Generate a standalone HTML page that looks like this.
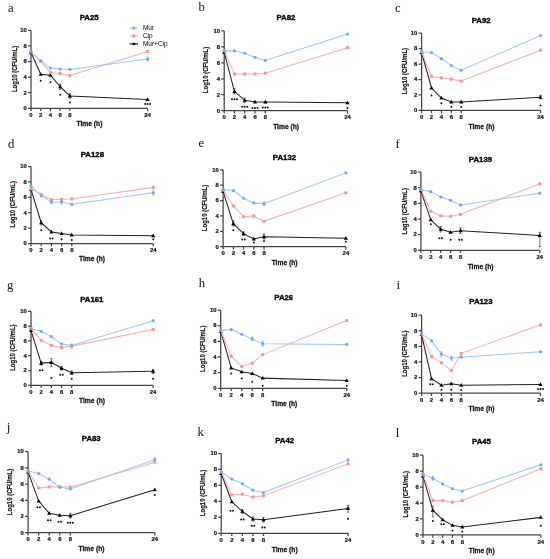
<!DOCTYPE html>
<html><head><meta charset="utf-8"><style>
html,body{margin:0;padding:0;background:#fff;}
svg{display:block;filter:blur(0.2px);}
text{font-family:"Liberation Sans",sans-serif;fill:#111;}
.let{font-family:"Liberation Serif",serif;font-size:12.7px;fill:#111;}
.tit{font-weight:bold;font-size:7.8px;text-anchor:middle;fill:#000;stroke:#000;stroke-width:0.35px;}
.xl{font-weight:bold;font-size:7.3px;text-anchor:middle;fill:#111;stroke:#111;stroke-width:0.25px;}
.yl{font-weight:bold;font-size:7px;text-anchor:middle;fill:#111;stroke:#111;stroke-width:0.2px;}
.yt{font-weight:bold;font-size:5.9px;text-anchor:end;fill:#111;stroke:#111;stroke-width:0.2px;}
.xt{font-weight:bold;font-size:5.9px;text-anchor:middle;fill:#111;stroke:#111;stroke-width:0.2px;}
.ast{font-weight:bold;font-size:6.2px;text-anchor:middle;fill:#111;stroke:#111;stroke-width:0.1px;}
.leg{font-size:6.5px;fill:#000;}
.ax{fill:none;stroke:#444;stroke-width:1.25;}
</style></head>
<body><svg width="550" height="559" viewBox="0 0 550 559">
<g><text x="7.90" y="11.70" class="let">a</text><text x="89.20" y="19.70" class="tit">PA25</text><text transform="translate(89.45,126.00) scale(0.92,1)" class="xl">Time (h)</text><text transform="translate(17.10,68.90) rotate(-90) scale(0.86,1)" class="yl">Log10 (CFU/mL)</text><path d="M31.00,30.40V108.30H147.60" class="ax"/><text x="26.80" y="110.10" class="yt">0</text><text x="26.80" y="94.52" class="yt">2</text><text x="26.80" y="78.94" class="yt">4</text><text x="26.80" y="63.36" class="yt">6</text><text x="26.80" y="47.78" class="yt">8</text><text x="26.80" y="32.20" class="yt">10</text><text x="31.00" y="116.90" class="xt">0</text><text x="40.72" y="116.90" class="xt">2</text><text x="50.43" y="116.90" class="xt">4</text><text x="60.15" y="116.90" class="xt">6</text><text x="69.87" y="116.90" class="xt">8</text><text x="147.60" y="116.90" class="xt">24</text><path d="M28.00,108.30H31.00M28.00,92.72H31.00M28.00,77.14H31.00M28.00,61.56H31.00M28.00,45.98H31.00M28.00,30.40H31.00M31.00,108.30V111.10M40.72,108.30V111.10M50.43,108.30V111.10M60.15,108.30V111.10M69.87,108.30V111.10M147.60,108.30V111.10" class="ax"/><path d="M60.15,89.21V84.15M58.95,89.21H61.35M58.95,84.15H61.35M69.87,98.17V93.50M68.67,98.17H71.07M68.67,93.50H71.07" fill="none" stroke="#555" stroke-width="0.8"/><path d="M147.60,60.78V56.89M146.40,60.78H148.80M146.40,56.89H148.80" fill="none" stroke="#8cbdf6" stroke-width="0.8"/><path d="M31.00,52.52 L40.72,74.26 L50.43,75.27 L60.15,86.72 L69.87,95.99 L147.60,99.50" fill="none" stroke="#222" stroke-width="1.05"/><path d="M31.00,50.32L33.10,54.02L28.90,54.02Z" fill="#000"/><path d="M40.72,72.06L42.82,75.76L38.62,75.76Z" fill="#000"/><path d="M50.43,73.07L52.53,76.77L48.33,76.77Z" fill="#000"/><path d="M60.15,84.52L62.25,88.22L58.05,88.22Z" fill="#000"/><path d="M69.87,93.79L71.97,97.49L67.77,97.49Z" fill="#000"/><path d="M147.60,97.30L149.70,101.00L145.50,101.00Z" fill="#000"/><path d="M31.00,51.82 L40.72,61.09 L50.43,72.47 L60.15,73.63 L69.87,75.58 L147.60,51.51" fill="none" stroke="#f7b0b3" stroke-width="1.05"/><rect x="29.50" y="50.32" width="3" height="3" fill="#f4959a"/><rect x="39.22" y="59.59" width="3" height="3" fill="#f4959a"/><rect x="48.93" y="70.97" width="3" height="3" fill="#f4959a"/><rect x="58.65" y="72.13" width="3" height="3" fill="#f4959a"/><rect x="68.37" y="74.08" width="3" height="3" fill="#f4959a"/><rect x="146.10" y="50.01" width="3" height="3" fill="#f4959a"/><path d="M31.00,51.82 L40.72,61.09 L50.43,68.03 L60.15,69.12 L69.87,69.43 L147.60,59.07" fill="none" stroke="#9dc8f8" stroke-width="1.05"/><circle cx="31.00" cy="51.82" r="1.6" fill="#70a9f2"/><circle cx="40.72" cy="61.09" r="1.6" fill="#70a9f2"/><circle cx="50.43" cy="68.03" r="1.6" fill="#70a9f2"/><circle cx="60.15" cy="69.12" r="1.6" fill="#70a9f2"/><circle cx="69.87" cy="69.43" r="1.6" fill="#70a9f2"/><circle cx="147.60" cy="59.07" r="1.6" fill="#70a9f2"/><circle cx="40.72" cy="80.73" r="1.0" fill="#111"/><circle cx="50.43" cy="82.29" r="1.0" fill="#111"/><circle cx="60.15" cy="94.76" r="1.0" fill="#111"/><circle cx="69.87" cy="102.55" r="1.0" fill="#111"/><circle cx="145.10" cy="104.11" r="1.0" fill="#111"/><circle cx="147.60" cy="104.11" r="1.0" fill="#111"/><circle cx="150.10" cy="104.11" r="1.0" fill="#111"/></g>
<g><text x="198.50" y="11.20" class="let">b</text><text x="285.90" y="19.90" class="tit">PA82</text><text transform="translate(286.10,129.20) scale(0.92,1)" class="xl">Time (h)</text><text transform="translate(208.15,70.00) rotate(-90) scale(0.86,1)" class="yl">Log10 (CFU/mL)</text><path d="M224.20,30.90V110.70H347.50" class="ax"/><text x="220.00" y="112.50" class="yt">0</text><text x="220.00" y="96.54" class="yt">2</text><text x="220.00" y="80.58" class="yt">4</text><text x="220.00" y="64.62" class="yt">6</text><text x="220.00" y="48.66" class="yt">8</text><text x="220.00" y="32.70" class="yt">10</text><text x="224.20" y="119.30" class="xt">0</text><text x="234.47" y="119.30" class="xt">2</text><text x="244.75" y="119.30" class="xt">4</text><text x="255.02" y="119.30" class="xt">6</text><text x="265.30" y="119.30" class="xt">8</text><text x="347.50" y="119.30" class="xt">24</text><path d="M221.20,110.70H224.20M221.20,94.74H224.20M221.20,78.78H224.20M221.20,62.82H224.20M221.20,46.86H224.20M221.20,30.90H224.20M224.20,110.70V113.50M234.47,110.70V113.50M244.75,110.70V113.50M255.02,110.70V113.50M265.30,110.70V113.50M347.50,110.70V113.50" class="ax"/><path d="M234.47,93.94V88.75M233.28,93.94H235.67M233.28,88.75H235.67M244.75,102.32V97.93M243.55,102.32H245.95M243.55,97.93H245.95" fill="none" stroke="#555" stroke-width="0.8"/><path d="M224.20,52.45 L234.47,91.55 L244.75,100.33 L255.02,101.92 L265.30,101.92 L347.50,102.72" fill="none" stroke="#222" stroke-width="1.05"/><path d="M224.20,50.25L226.30,53.95L222.10,53.95Z" fill="#000"/><path d="M234.47,89.35L236.57,93.05L232.38,93.05Z" fill="#000"/><path d="M244.75,98.13L246.85,101.83L242.65,101.83Z" fill="#000"/><path d="M255.02,99.72L257.12,103.42L252.92,103.42Z" fill="#000"/><path d="M265.30,99.72L267.40,103.42L263.20,103.42Z" fill="#000"/><path d="M347.50,100.52L349.60,104.22L345.40,104.22Z" fill="#000"/><path d="M224.20,50.85 L234.47,73.99 L244.75,73.99 L255.02,73.99 L265.30,73.19 L347.50,47.66" fill="none" stroke="#f7b0b3" stroke-width="1.05"/><rect x="222.70" y="49.35" width="3" height="3" fill="#f4959a"/><rect x="232.97" y="72.49" width="3" height="3" fill="#f4959a"/><rect x="243.25" y="72.49" width="3" height="3" fill="#f4959a"/><rect x="253.52" y="72.49" width="3" height="3" fill="#f4959a"/><rect x="263.80" y="71.69" width="3" height="3" fill="#f4959a"/><rect x="346.00" y="46.16" width="3" height="3" fill="#f4959a"/><path d="M224.20,50.85 L234.47,50.85 L244.75,53.24 L255.02,57.23 L265.30,60.43 L347.50,34.09" fill="none" stroke="#9dc8f8" stroke-width="1.05"/><circle cx="224.20" cy="50.85" r="1.6" fill="#70a9f2"/><circle cx="234.47" cy="50.85" r="1.6" fill="#70a9f2"/><circle cx="244.75" cy="53.24" r="1.6" fill="#70a9f2"/><circle cx="255.02" cy="57.23" r="1.6" fill="#70a9f2"/><circle cx="265.30" cy="60.43" r="1.6" fill="#70a9f2"/><circle cx="347.50" cy="34.09" r="1.6" fill="#70a9f2"/><circle cx="231.97" cy="99.23" r="1.0" fill="#111"/><circle cx="234.47" cy="99.23" r="1.0" fill="#111"/><circle cx="236.97" cy="99.23" r="1.0" fill="#111"/><circle cx="242.25" cy="106.81" r="1.0" fill="#111"/><circle cx="244.75" cy="106.81" r="1.0" fill="#111"/><circle cx="247.25" cy="106.81" r="1.0" fill="#111"/><circle cx="252.52" cy="108.01" r="1.0" fill="#111"/><circle cx="255.02" cy="108.01" r="1.0" fill="#111"/><circle cx="257.52" cy="108.01" r="1.0" fill="#111"/><circle cx="262.80" cy="107.61" r="1.0" fill="#111"/><circle cx="265.30" cy="107.61" r="1.0" fill="#111"/><circle cx="267.80" cy="107.61" r="1.0" fill="#111"/><circle cx="347.50" cy="108.01" r="1.0" fill="#111"/></g>
<g><text x="394.90" y="12.00" class="let">c</text><text x="481.10" y="22.90" class="tit">PA92</text><text transform="translate(481.50,128.50) scale(0.92,1)" class="xl">Time (h)</text><text transform="translate(406.75,71.10) rotate(-90) scale(0.86,1)" class="yl">Log10 (CFU/mL)</text><path d="M421.60,33.20V110.40H540.50" class="ax"/><text x="417.40" y="112.20" class="yt">0</text><text x="417.40" y="96.76" class="yt">2</text><text x="417.40" y="81.32" class="yt">4</text><text x="417.40" y="65.88" class="yt">6</text><text x="417.40" y="50.44" class="yt">8</text><text x="417.40" y="35.00" class="yt">10</text><text x="421.60" y="119.00" class="xt">0</text><text x="431.51" y="119.00" class="xt">2</text><text x="441.42" y="119.00" class="xt">4</text><text x="451.33" y="119.00" class="xt">6</text><text x="461.23" y="119.00" class="xt">8</text><text x="540.50" y="119.00" class="xt">24</text><path d="M418.60,110.40H421.60M418.60,94.96H421.60M418.60,79.52H421.60M418.60,64.08H421.60M418.60,48.64H421.60M418.60,33.20H421.60M421.60,110.40V113.20M431.51,110.40V113.20M441.42,110.40V113.20M451.33,110.40V113.20M461.23,110.40V113.20M540.50,110.40V113.20" class="ax"/><path d="M540.50,98.82V95.35M539.30,98.82H541.70M539.30,95.35H541.70" fill="none" stroke="#555" stroke-width="0.8"/><path d="M421.60,52.50 L431.51,88.01 L441.42,98.05 L451.33,101.91 L461.23,101.91 L540.50,97.28" fill="none" stroke="#222" stroke-width="1.05"/><path d="M421.60,50.30L423.70,54.00L419.50,54.00Z" fill="#000"/><path d="M431.51,85.81L433.61,89.51L429.41,89.51Z" fill="#000"/><path d="M441.42,95.85L443.52,99.55L439.32,99.55Z" fill="#000"/><path d="M451.33,99.71L453.43,103.41L449.23,103.41Z" fill="#000"/><path d="M461.23,99.71L463.33,103.41L459.13,103.41Z" fill="#000"/><path d="M540.50,95.08L542.60,98.78L538.40,98.78Z" fill="#000"/><path d="M421.60,51.73 L431.51,76.43 L441.42,77.98 L451.33,79.13 L461.23,81.06 L540.50,50.18" fill="none" stroke="#f7b0b3" stroke-width="1.05"/><rect x="420.10" y="50.23" width="3" height="3" fill="#f4959a"/><rect x="430.01" y="74.93" width="3" height="3" fill="#f4959a"/><rect x="439.92" y="76.48" width="3" height="3" fill="#f4959a"/><rect x="449.83" y="77.63" width="3" height="3" fill="#f4959a"/><rect x="459.73" y="79.56" width="3" height="3" fill="#f4959a"/><rect x="539.00" y="48.68" width="3" height="3" fill="#f4959a"/><path d="M421.60,51.73 L431.51,52.50 L441.42,58.68 L451.33,65.62 L461.23,70.26 L540.50,35.52" fill="none" stroke="#9dc8f8" stroke-width="1.05"/><circle cx="421.60" cy="51.73" r="1.6" fill="#70a9f2"/><circle cx="431.51" cy="52.50" r="1.6" fill="#70a9f2"/><circle cx="441.42" cy="58.68" r="1.6" fill="#70a9f2"/><circle cx="451.33" cy="65.62" r="1.6" fill="#70a9f2"/><circle cx="461.23" cy="70.26" r="1.6" fill="#70a9f2"/><circle cx="540.50" cy="35.52" r="1.6" fill="#70a9f2"/><circle cx="431.51" cy="95.43" r="1.0" fill="#111"/><circle cx="441.42" cy="103.15" r="1.0" fill="#111"/><circle cx="451.33" cy="107.01" r="1.0" fill="#111"/><circle cx="461.23" cy="107.01" r="1.0" fill="#111"/><circle cx="540.50" cy="105.47" r="1.0" fill="#111"/></g>
<g><text x="7.90" y="147.80" class="let">d</text><text x="92.35" y="156.60" class="tit">PA128</text><text transform="translate(92.00,261.20) scale(0.92,1)" class="xl">Time (h)</text><text transform="translate(15.25,204.30) rotate(-90) scale(0.86,1)" class="yl">Log10 (CFU/mL)</text><path d="M31.00,166.60V243.50H153.30" class="ax"/><text x="26.80" y="245.30" class="yt">0</text><text x="26.80" y="229.92" class="yt">2</text><text x="26.80" y="214.54" class="yt">4</text><text x="26.80" y="199.16" class="yt">6</text><text x="26.80" y="183.78" class="yt">8</text><text x="26.80" y="168.40" class="yt">10</text><text x="31.00" y="252.10" class="xt">0</text><text x="41.19" y="252.10" class="xt">2</text><text x="51.38" y="252.10" class="xt">4</text><text x="61.58" y="252.10" class="xt">6</text><text x="71.77" y="252.10" class="xt">8</text><text x="153.30" y="252.10" class="xt">24</text><path d="M28.00,243.50H31.00M28.00,228.12H31.00M28.00,212.74H31.00M28.00,197.36H31.00M28.00,181.98H31.00M28.00,166.60H31.00M31.00,243.50V246.30M41.19,243.50V246.30M51.38,243.50V246.30M61.58,243.50V246.30M71.77,243.50V246.30M153.30,243.50V246.30" class="ax"/><path d="M41.19,225.04V220.81M39.99,225.04H42.39M39.99,220.81H42.39" fill="none" stroke="#555" stroke-width="0.8"/><path d="M51.38,203.90V200.44M50.18,203.90H52.58M50.18,200.44H52.58M61.58,204.28V200.44M60.38,204.28H62.78M60.38,200.44H62.78M153.30,195.44V190.05M152.10,195.44H154.50M152.10,190.05H154.50" fill="none" stroke="#8cbdf6" stroke-width="0.8"/><path d="M31.00,189.29 L41.19,222.74 L51.38,231.97 L61.58,233.50 L71.77,235.04 L153.30,235.81" fill="none" stroke="#222" stroke-width="1.05"/><path d="M31.00,187.09L33.10,190.79L28.90,190.79Z" fill="#000"/><path d="M41.19,220.54L43.29,224.24L39.09,224.24Z" fill="#000"/><path d="M51.38,229.77L53.48,233.47L49.28,233.47Z" fill="#000"/><path d="M61.58,231.30L63.68,235.00L59.48,235.00Z" fill="#000"/><path d="M71.77,232.84L73.87,236.54L69.67,236.54Z" fill="#000"/><path d="M153.30,233.61L155.40,237.31L151.20,237.31Z" fill="#000"/><path d="M31.00,188.90 L41.19,194.28 L51.38,199.67 L61.58,199.28 L71.77,198.90 L153.30,187.36" fill="none" stroke="#f7b0b3" stroke-width="1.05"/><rect x="29.50" y="187.40" width="3" height="3" fill="#f4959a"/><rect x="39.69" y="192.78" width="3" height="3" fill="#f4959a"/><rect x="49.88" y="198.17" width="3" height="3" fill="#f4959a"/><rect x="60.08" y="197.78" width="3" height="3" fill="#f4959a"/><rect x="70.27" y="197.40" width="3" height="3" fill="#f4959a"/><rect x="151.80" y="185.86" width="3" height="3" fill="#f4959a"/><path d="M31.00,185.82 L41.19,195.82 L51.38,201.97 L61.58,201.97 L71.77,204.28 L153.30,192.75" fill="none" stroke="#9dc8f8" stroke-width="1.05"/><circle cx="31.00" cy="185.82" r="1.6" fill="#70a9f2"/><circle cx="41.19" cy="195.82" r="1.6" fill="#70a9f2"/><circle cx="51.38" cy="201.97" r="1.6" fill="#70a9f2"/><circle cx="61.58" cy="201.97" r="1.6" fill="#70a9f2"/><circle cx="71.77" cy="204.28" r="1.6" fill="#70a9f2"/><circle cx="153.30" cy="192.75" r="1.6" fill="#70a9f2"/><circle cx="41.19" cy="230.13" r="1.0" fill="#111"/><circle cx="50.13" cy="238.59" r="1.0" fill="#111"/><circle cx="52.63" cy="238.59" r="1.0" fill="#111"/><circle cx="61.58" cy="239.35" r="1.0" fill="#111"/><circle cx="71.77" cy="240.12" r="1.0" fill="#111"/><circle cx="153.30" cy="239.35" r="1.0" fill="#111"/></g>
<g><text x="198.50" y="147.30" class="let">e</text><text x="284.50" y="160.00" class="tit">PA132</text><text transform="translate(284.60,264.60) scale(0.92,1)" class="xl">Time (h)</text><text transform="translate(207.45,208.00) rotate(-90) scale(0.86,1)" class="yl">Log10 (CFU/mL)</text><path d="M223.10,169.80V246.70H345.90" class="ax"/><text x="218.90" y="248.50" class="yt">0</text><text x="218.90" y="233.12" class="yt">2</text><text x="218.90" y="217.74" class="yt">4</text><text x="218.90" y="202.36" class="yt">6</text><text x="218.90" y="186.98" class="yt">8</text><text x="218.90" y="171.60" class="yt">10</text><text x="223.10" y="255.30" class="xt">0</text><text x="233.33" y="255.30" class="xt">2</text><text x="243.57" y="255.30" class="xt">4</text><text x="253.80" y="255.30" class="xt">6</text><text x="264.03" y="255.30" class="xt">8</text><text x="345.90" y="255.30" class="xt">24</text><path d="M220.10,246.70H223.10M220.10,231.32H223.10M220.10,215.94H223.10M220.10,200.56H223.10M220.10,185.18H223.10M220.10,169.80H223.10M223.10,246.70V249.50M233.33,246.70V249.50M243.57,246.70V249.50M253.80,246.70V249.50M264.03,246.70V249.50M345.90,246.70V249.50" class="ax"/><path d="M233.33,225.94V220.94M232.13,225.94H234.53M232.13,220.94H234.53M243.57,235.55V231.70M242.37,235.55H244.77M242.37,231.70H244.77M264.03,239.01V234.01M262.83,239.01H265.23M262.83,234.01H265.23" fill="none" stroke="#555" stroke-width="0.8"/><path d="M264.03,205.56V201.71M262.83,205.56H265.23M262.83,201.71H265.23" fill="none" stroke="#8cbdf6" stroke-width="0.8"/><path d="M223.10,191.33 L233.33,223.63 L243.57,233.63 L253.80,239.01 L264.03,236.70 L345.90,238.24" fill="none" stroke="#222" stroke-width="1.05"/><path d="M223.10,189.13L225.20,192.83L221.00,192.83Z" fill="#000"/><path d="M233.33,221.43L235.43,225.13L231.23,225.13Z" fill="#000"/><path d="M243.57,231.43L245.67,235.13L241.47,235.13Z" fill="#000"/><path d="M253.80,236.81L255.90,240.51L251.70,240.51Z" fill="#000"/><path d="M264.03,234.50L266.13,238.20L261.93,238.20Z" fill="#000"/><path d="M345.90,236.04L348.00,239.74L343.80,239.74Z" fill="#000"/><path d="M223.10,189.79 L233.33,205.94 L243.57,216.71 L253.80,215.94 L264.03,221.32 L345.90,192.87" fill="none" stroke="#f7b0b3" stroke-width="1.05"/><rect x="221.60" y="188.29" width="3" height="3" fill="#f4959a"/><rect x="231.83" y="204.44" width="3" height="3" fill="#f4959a"/><rect x="242.07" y="215.21" width="3" height="3" fill="#f4959a"/><rect x="252.30" y="214.44" width="3" height="3" fill="#f4959a"/><rect x="262.53" y="219.82" width="3" height="3" fill="#f4959a"/><rect x="344.40" y="191.37" width="3" height="3" fill="#f4959a"/><path d="M223.10,189.79 L233.33,190.56 L243.57,198.25 L253.80,202.87 L264.03,203.64 L345.90,172.88" fill="none" stroke="#9dc8f8" stroke-width="1.05"/><circle cx="223.10" cy="189.79" r="1.6" fill="#70a9f2"/><circle cx="233.33" cy="190.56" r="1.6" fill="#70a9f2"/><circle cx="243.57" cy="198.25" r="1.6" fill="#70a9f2"/><circle cx="253.80" cy="202.87" r="1.6" fill="#70a9f2"/><circle cx="264.03" cy="203.64" r="1.6" fill="#70a9f2"/><circle cx="345.90" cy="172.88" r="1.6" fill="#70a9f2"/><circle cx="233.33" cy="230.25" r="1.0" fill="#111"/><circle cx="242.32" cy="239.48" r="1.0" fill="#111"/><circle cx="244.82" cy="239.48" r="1.0" fill="#111"/><circle cx="253.80" cy="242.55" r="1.0" fill="#111"/><circle cx="264.03" cy="241.02" r="1.0" fill="#111"/><circle cx="345.90" cy="241.79" r="1.0" fill="#111"/></g>
<g><text x="395.50" y="147.80" class="let">f</text><text x="480.50" y="161.80" class="tit">PA139</text><text transform="translate(480.60,268.80) scale(0.92,1)" class="xl">Time (h)</text><text transform="translate(406.75,211.30) rotate(-90) scale(0.86,1)" class="yl">Log10 (CFU/mL)</text><path d="M420.90,172.10V250.30H539.80" class="ax"/><text x="416.70" y="252.10" class="yt">0</text><text x="416.70" y="236.46" class="yt">2</text><text x="416.70" y="220.82" class="yt">4</text><text x="416.70" y="205.18" class="yt">6</text><text x="416.70" y="189.54" class="yt">8</text><text x="416.70" y="173.90" class="yt">10</text><text x="420.90" y="258.90" class="xt">0</text><text x="430.81" y="258.90" class="xt">2</text><text x="440.72" y="258.90" class="xt">4</text><text x="450.62" y="258.90" class="xt">6</text><text x="460.53" y="258.90" class="xt">8</text><text x="539.80" y="258.90" class="xt">24</text><path d="M417.90,250.30H420.90M417.90,234.66H420.90M417.90,219.02H420.90M417.90,203.38H420.90M417.90,187.74H420.90M417.90,172.10H420.90M420.90,250.30V253.10M430.81,250.30V253.10M440.72,250.30V253.10M450.62,250.30V253.10M460.53,250.30V253.10M539.80,250.30V253.10" class="ax"/><path d="M440.72,231.92V226.45M439.52,231.92H441.92M439.52,226.45H441.92M460.53,233.49V228.01M459.33,233.49H461.73M459.33,228.01H461.73M539.80,246.39V232.31M538.60,246.39H541.00M538.60,232.31H541.00" fill="none" stroke="#555" stroke-width="0.8"/><path d="M420.90,190.87 L430.81,219.80 L440.72,229.19 L450.62,232.31 L460.53,230.75 L539.80,235.44" fill="none" stroke="#222" stroke-width="1.05"/><path d="M420.90,188.67L423.00,192.37L418.80,192.37Z" fill="#000"/><path d="M430.81,217.60L432.91,221.30L428.71,221.30Z" fill="#000"/><path d="M440.72,226.99L442.82,230.69L438.62,230.69Z" fill="#000"/><path d="M450.62,230.11L452.73,233.81L448.52,233.81Z" fill="#000"/><path d="M460.53,228.55L462.63,232.25L458.43,232.25Z" fill="#000"/><path d="M539.80,233.24L541.90,236.94L537.70,236.94Z" fill="#000"/><path d="M420.90,189.30 L430.81,211.20 L440.72,215.89 L450.62,216.28 L460.53,214.33 L539.80,183.83" fill="none" stroke="#f7b0b3" stroke-width="1.05"/><rect x="419.40" y="187.80" width="3" height="3" fill="#f4959a"/><rect x="429.31" y="209.70" width="3" height="3" fill="#f4959a"/><rect x="439.22" y="214.39" width="3" height="3" fill="#f4959a"/><rect x="449.12" y="214.78" width="3" height="3" fill="#f4959a"/><rect x="459.03" y="212.83" width="3" height="3" fill="#f4959a"/><rect x="538.30" y="182.33" width="3" height="3" fill="#f4959a"/><path d="M420.90,189.30 L430.81,191.65 L440.72,197.12 L450.62,200.25 L460.53,204.94 L539.80,193.21" fill="none" stroke="#9dc8f8" stroke-width="1.05"/><circle cx="420.90" cy="189.30" r="1.6" fill="#70a9f2"/><circle cx="430.81" cy="191.65" r="1.6" fill="#70a9f2"/><circle cx="440.72" cy="197.12" r="1.6" fill="#70a9f2"/><circle cx="450.62" cy="200.25" r="1.6" fill="#70a9f2"/><circle cx="460.53" cy="204.94" r="1.6" fill="#70a9f2"/><circle cx="539.80" cy="193.21" r="1.6" fill="#70a9f2"/><circle cx="430.81" cy="224.19" r="1.0" fill="#111"/><circle cx="439.47" cy="238.27" r="1.0" fill="#111"/><circle cx="441.97" cy="238.27" r="1.0" fill="#111"/><circle cx="450.62" cy="239.83" r="1.0" fill="#111"/><circle cx="459.28" cy="239.83" r="1.0" fill="#111"/><circle cx="461.78" cy="239.83" r="1.0" fill="#111"/></g>
<g><text x="7.10" y="289.00" class="let">g</text><text x="91.80" y="301.60" class="tit">PA161</text><text transform="translate(92.00,402.50) scale(0.92,1)" class="xl">Time (h)</text><text transform="translate(15.25,347.60) rotate(-90) scale(0.86,1)" class="yl">Log10 (CFU/mL)</text><path d="M31.00,311.40V385.30H153.10" class="ax"/><text x="26.80" y="387.10" class="yt">0</text><text x="26.80" y="372.32" class="yt">2</text><text x="26.80" y="357.54" class="yt">4</text><text x="26.80" y="342.76" class="yt">6</text><text x="26.80" y="327.98" class="yt">8</text><text x="26.80" y="313.20" class="yt">10</text><text x="31.00" y="393.90" class="xt">0</text><text x="41.17" y="393.90" class="xt">2</text><text x="51.35" y="393.90" class="xt">4</text><text x="61.52" y="393.90" class="xt">6</text><text x="71.70" y="393.90" class="xt">8</text><text x="153.10" y="393.90" class="xt">24</text><path d="M28.00,385.30H31.00M28.00,370.52H31.00M28.00,355.74H31.00M28.00,340.96H31.00M28.00,326.18H31.00M28.00,311.40H31.00M31.00,385.30V388.10M41.17,385.30V388.10M51.35,385.30V388.10M61.52,385.30V388.10M71.70,385.30V388.10M153.10,385.30V388.10" class="ax"/><path d="M41.17,364.98V361.28M39.97,364.98H42.38M39.97,361.28H42.38M51.35,366.82V358.70M50.15,366.82H52.55M50.15,358.70H52.55M61.52,370.15V366.46M60.32,370.15H62.73M60.32,366.46H62.73M71.70,374.58V370.89M70.50,374.58H72.90M70.50,370.89H72.90M153.10,373.48V369.41M151.90,373.48H154.30M151.90,369.41H154.30" fill="none" stroke="#555" stroke-width="0.8"/><path d="M71.70,348.72V343.92M70.50,348.72H72.90M70.50,343.92H72.90" fill="none" stroke="#f5a3a3" stroke-width="0.8"/><path d="M31.00,330.61 L41.17,363.13 L51.35,362.39 L61.52,368.30 L71.70,372.74 L153.10,371.26" fill="none" stroke="#222" stroke-width="1.05"/><path d="M31.00,328.41L33.10,332.11L28.90,332.11Z" fill="#000"/><path d="M41.17,360.93L43.27,364.63L39.07,364.63Z" fill="#000"/><path d="M51.35,360.19L53.45,363.89L49.25,363.89Z" fill="#000"/><path d="M61.52,366.10L63.62,369.80L59.42,369.80Z" fill="#000"/><path d="M71.70,370.54L73.80,374.24L69.60,374.24Z" fill="#000"/><path d="M153.10,369.06L155.20,372.76L151.00,372.76Z" fill="#000"/><path d="M31.00,328.40 L41.17,340.22 L51.35,345.39 L61.52,347.61 L71.70,346.13 L153.10,329.51" fill="none" stroke="#f7b0b3" stroke-width="1.05"/><rect x="29.50" y="326.90" width="3" height="3" fill="#f4959a"/><rect x="39.67" y="338.72" width="3" height="3" fill="#f4959a"/><rect x="49.85" y="343.89" width="3" height="3" fill="#f4959a"/><rect x="60.02" y="346.11" width="3" height="3" fill="#f4959a"/><rect x="70.20" y="344.63" width="3" height="3" fill="#f4959a"/><rect x="151.60" y="328.01" width="3" height="3" fill="#f4959a"/><path d="M31.00,328.77 L41.17,331.35 L51.35,336.53 L61.52,343.92 L71.70,345.39 L153.10,320.64" fill="none" stroke="#9dc8f8" stroke-width="1.05"/><circle cx="31.00" cy="328.77" r="1.6" fill="#70a9f2"/><circle cx="41.17" cy="331.35" r="1.6" fill="#70a9f2"/><circle cx="51.35" cy="336.53" r="1.6" fill="#70a9f2"/><circle cx="61.52" cy="343.92" r="1.6" fill="#70a9f2"/><circle cx="71.70" cy="345.39" r="1.6" fill="#70a9f2"/><circle cx="153.10" cy="320.64" r="1.6" fill="#70a9f2"/><circle cx="39.92" cy="370.22" r="1.0" fill="#111"/><circle cx="42.42" cy="370.22" r="1.0" fill="#111"/><circle cx="51.35" cy="377.98" r="1.0" fill="#111"/><circle cx="60.27" cy="374.65" r="1.0" fill="#111"/><circle cx="62.77" cy="374.65" r="1.0" fill="#111"/><circle cx="71.70" cy="378.72" r="1.0" fill="#111"/><circle cx="153.10" cy="378.72" r="1.0" fill="#111"/></g>
<g><text x="198.70" y="286.70" class="let">h</text><text x="283.75" y="299.50" class="tit">PA26</text><text transform="translate(284.30,406.40) scale(0.92,1)" class="xl">Time (h)</text><text transform="translate(205.25,348.70) rotate(-90) scale(0.86,1)" class="yl">Log10 (CFU/mL)</text><path d="M220.70,310.00V388.30H346.80" class="ax"/><text x="216.50" y="390.10" class="yt">0</text><text x="216.50" y="374.44" class="yt">2</text><text x="216.50" y="358.78" class="yt">4</text><text x="216.50" y="343.12" class="yt">6</text><text x="216.50" y="327.46" class="yt">8</text><text x="216.50" y="311.80" class="yt">10</text><text x="220.70" y="396.90" class="xt">0</text><text x="231.21" y="396.90" class="xt">2</text><text x="241.72" y="396.90" class="xt">4</text><text x="252.22" y="396.90" class="xt">6</text><text x="262.73" y="396.90" class="xt">8</text><text x="346.80" y="396.90" class="xt">24</text><path d="M217.70,388.30H220.70M217.70,372.64H220.70M217.70,356.98H220.70M217.70,341.32H220.70M217.70,325.66H220.70M217.70,310.00H220.70M220.70,388.30V391.10M231.21,388.30V391.10M241.72,388.30V391.10M252.22,388.30V391.10M262.73,388.30V391.10M346.80,388.30V391.10" class="ax"/><path d="M252.22,340.93V337.01M251.03,340.93H253.42M251.03,337.01H253.42M262.73,346.41V340.93M261.53,346.41H263.93M261.53,340.93H263.93" fill="none" stroke="#8cbdf6" stroke-width="0.8"/><path d="M220.70,331.14 L231.21,367.94 L241.72,371.86 L252.22,373.42 L262.73,378.12 L346.80,380.47" fill="none" stroke="#222" stroke-width="1.05"/><path d="M220.70,328.94L222.80,332.64L218.60,332.64Z" fill="#000"/><path d="M231.21,365.74L233.31,369.44L229.11,369.44Z" fill="#000"/><path d="M241.72,369.66L243.82,373.36L239.62,373.36Z" fill="#000"/><path d="M252.22,371.22L254.32,374.92L250.12,374.92Z" fill="#000"/><path d="M262.73,375.92L264.83,379.62L260.63,379.62Z" fill="#000"/><path d="M346.80,378.27L348.90,381.97L344.70,381.97Z" fill="#000"/><path d="M220.70,330.36 L231.21,356.20 L241.72,366.38 L252.22,363.24 L262.73,354.63 L346.80,320.57" fill="none" stroke="#f7b0b3" stroke-width="1.05"/><rect x="219.20" y="328.86" width="3" height="3" fill="#f4959a"/><rect x="229.71" y="354.70" width="3" height="3" fill="#f4959a"/><rect x="240.22" y="364.88" width="3" height="3" fill="#f4959a"/><rect x="250.72" y="361.74" width="3" height="3" fill="#f4959a"/><rect x="261.23" y="353.13" width="3" height="3" fill="#f4959a"/><rect x="345.30" y="319.07" width="3" height="3" fill="#f4959a"/><path d="M220.70,330.36 L231.21,329.57 L241.72,334.27 L252.22,338.97 L262.73,343.67 L346.80,344.45" fill="none" stroke="#9dc8f8" stroke-width="1.05"/><circle cx="220.70" cy="330.36" r="1.6" fill="#70a9f2"/><circle cx="231.21" cy="329.57" r="1.6" fill="#70a9f2"/><circle cx="241.72" cy="334.27" r="1.6" fill="#70a9f2"/><circle cx="252.22" cy="338.97" r="1.6" fill="#70a9f2"/><circle cx="262.73" cy="343.67" r="1.6" fill="#70a9f2"/><circle cx="346.80" cy="344.45" r="1.6" fill="#70a9f2"/><circle cx="231.21" cy="373.51" r="1.0" fill="#111"/><circle cx="241.72" cy="378.60" r="1.0" fill="#111"/><circle cx="252.22" cy="381.74" r="1.0" fill="#111"/><circle cx="262.73" cy="385.65" r="1.0" fill="#111"/><circle cx="346.80" cy="385.65" r="1.0" fill="#111"/></g>
<g><text x="396.50" y="288.60" class="let">i</text><text x="480.90" y="304.40" class="tit">PA123</text><text transform="translate(481.50,411.00) scale(0.92,1)" class="xl">Time (h)</text><text transform="translate(406.75,353.60) rotate(-90) scale(0.86,1)" class="yl">Log10 (CFU/mL)</text><path d="M421.60,315.10V393.10H540.50" class="ax"/><text x="417.40" y="394.90" class="yt">0</text><text x="417.40" y="379.30" class="yt">2</text><text x="417.40" y="363.70" class="yt">4</text><text x="417.40" y="348.10" class="yt">6</text><text x="417.40" y="332.50" class="yt">8</text><text x="417.40" y="316.90" class="yt">10</text><text x="421.60" y="401.70" class="xt">0</text><text x="431.51" y="401.70" class="xt">2</text><text x="441.42" y="401.70" class="xt">4</text><text x="451.33" y="401.70" class="xt">6</text><text x="461.23" y="401.70" class="xt">8</text><text x="540.50" y="401.70" class="xt">24</text><path d="M418.60,393.10H421.60M418.60,377.50H421.60M418.60,361.90H421.60M418.60,346.30H421.60M418.60,330.70H421.60M418.60,315.10H421.60M421.60,393.10V395.90M431.51,393.10V395.90M441.42,393.10V395.90M451.33,393.10V395.90M461.23,393.10V395.90M540.50,393.10V395.90" class="ax"/><path d="M441.42,356.83V351.76M440.22,356.83H442.62M440.22,351.76H442.62M451.33,360.73V356.05M450.13,360.73H452.53M450.13,356.05H452.53" fill="none" stroke="#8cbdf6" stroke-width="0.8"/><path d="M421.60,334.60 L431.51,378.67 L441.42,385.30 L451.33,383.74 L461.23,385.30 L540.50,384.52" fill="none" stroke="#222" stroke-width="1.05"/><path d="M421.60,332.40L423.70,336.10L419.50,336.10Z" fill="#000"/><path d="M431.51,376.47L433.61,380.17L429.41,380.17Z" fill="#000"/><path d="M441.42,383.10L443.52,386.80L439.32,386.80Z" fill="#000"/><path d="M451.33,381.54L453.43,385.24L449.23,385.24Z" fill="#000"/><path d="M461.23,383.10L463.33,386.80L459.13,386.80Z" fill="#000"/><path d="M540.50,382.32L542.60,386.02L538.40,386.02Z" fill="#000"/><path d="M421.60,333.82 L431.51,356.44 L441.42,362.68 L451.33,370.48 L461.23,353.32 L540.50,324.85" fill="none" stroke="#f7b0b3" stroke-width="1.05"/><rect x="420.10" y="332.32" width="3" height="3" fill="#f4959a"/><rect x="430.01" y="354.94" width="3" height="3" fill="#f4959a"/><rect x="439.92" y="361.18" width="3" height="3" fill="#f4959a"/><rect x="449.83" y="368.98" width="3" height="3" fill="#f4959a"/><rect x="459.73" y="351.82" width="3" height="3" fill="#f4959a"/><rect x="539.00" y="323.35" width="3" height="3" fill="#f4959a"/><path d="M421.60,333.82 L431.51,340.84 L441.42,354.10 L451.33,358.00 L461.23,357.22 L540.50,351.76" fill="none" stroke="#9dc8f8" stroke-width="1.05"/><circle cx="421.60" cy="333.82" r="1.6" fill="#70a9f2"/><circle cx="431.51" cy="340.84" r="1.6" fill="#70a9f2"/><circle cx="441.42" cy="354.10" r="1.6" fill="#70a9f2"/><circle cx="451.33" cy="358.00" r="1.6" fill="#70a9f2"/><circle cx="461.23" cy="357.22" r="1.6" fill="#70a9f2"/><circle cx="540.50" cy="351.76" r="1.6" fill="#70a9f2"/><circle cx="430.26" cy="384.22" r="1.0" fill="#111"/><circle cx="432.76" cy="384.22" r="1.0" fill="#111"/><circle cx="441.42" cy="389.68" r="1.0" fill="#111"/><circle cx="451.33" cy="389.68" r="1.0" fill="#111"/><circle cx="461.23" cy="390.07" r="1.0" fill="#111"/><circle cx="538.00" cy="388.90" r="1.0" fill="#111"/><circle cx="540.50" cy="388.90" r="1.0" fill="#111"/><circle cx="543.00" cy="388.90" r="1.0" fill="#111"/></g>
<g><text x="6.80" y="430.90" class="let">j</text><text x="91.25" y="440.50" class="tit">PA83</text><text transform="translate(91.50,551.30) scale(0.92,1)" class="xl">Time (h)</text><text transform="translate(11.70,492.00) rotate(-90) scale(0.86,1)" class="yl">Log10 (CFU/mL)</text><path d="M28.10,451.60V532.70H154.80" class="ax"/><text x="23.90" y="534.50" class="yt">0</text><text x="23.90" y="518.28" class="yt">2</text><text x="23.90" y="502.06" class="yt">4</text><text x="23.90" y="485.84" class="yt">6</text><text x="23.90" y="469.62" class="yt">8</text><text x="23.90" y="453.40" class="yt">10</text><text x="28.10" y="541.30" class="xt">0</text><text x="38.66" y="541.30" class="xt">2</text><text x="49.22" y="541.30" class="xt">4</text><text x="59.78" y="541.30" class="xt">6</text><text x="70.33" y="541.30" class="xt">8</text><text x="154.80" y="541.30" class="xt">24</text><path d="M25.10,532.70H28.10M25.10,516.48H28.10M25.10,500.26H28.10M25.10,484.04H28.10M25.10,467.82H28.10M25.10,451.60H28.10M28.10,532.70V535.50M38.66,532.70V535.50M49.22,532.70V535.50M59.78,532.70V535.50M70.33,532.70V535.50M154.80,532.70V535.50" class="ax"/><path d="M70.33,518.10V513.64M69.13,518.10H71.53M69.13,513.64H71.53" fill="none" stroke="#555" stroke-width="0.8"/><path d="M154.80,461.74V457.68M153.60,461.74H156.00M153.60,457.68H156.00" fill="none" stroke="#8cbdf6" stroke-width="0.8"/><path d="M28.10,471.88 L38.66,501.07 L49.22,513.24 L59.78,515.26 L70.33,515.67 L154.80,489.72" fill="none" stroke="#222" stroke-width="1.05"/><path d="M28.10,469.68L30.20,473.38L26.00,473.38Z" fill="#000"/><path d="M38.66,498.87L40.76,502.57L36.56,502.57Z" fill="#000"/><path d="M49.22,511.04L51.32,514.74L47.12,514.74Z" fill="#000"/><path d="M59.78,513.06L61.88,516.76L57.68,516.76Z" fill="#000"/><path d="M70.33,513.47L72.43,517.17L68.23,517.17Z" fill="#000"/><path d="M154.80,487.52L156.90,491.22L152.70,491.22Z" fill="#000"/><path d="M28.10,471.06 L38.66,488.10 L49.22,486.88 L59.78,486.88 L70.33,487.28 L154.80,462.14" fill="none" stroke="#f7b0b3" stroke-width="1.05"/><rect x="26.60" y="469.56" width="3" height="3" fill="#f4959a"/><rect x="37.16" y="486.60" width="3" height="3" fill="#f4959a"/><rect x="47.72" y="485.38" width="3" height="3" fill="#f4959a"/><rect x="58.28" y="485.38" width="3" height="3" fill="#f4959a"/><rect x="68.83" y="485.78" width="3" height="3" fill="#f4959a"/><rect x="153.30" y="460.64" width="3" height="3" fill="#f4959a"/><path d="M28.10,471.06 L38.66,473.50 L49.22,479.17 L59.78,487.28 L70.33,488.91 L154.80,459.71" fill="none" stroke="#9dc8f8" stroke-width="1.05"/><circle cx="28.10" cy="471.06" r="1.6" fill="#70a9f2"/><circle cx="38.66" cy="473.50" r="1.6" fill="#70a9f2"/><circle cx="49.22" cy="479.17" r="1.6" fill="#70a9f2"/><circle cx="59.78" cy="487.28" r="1.6" fill="#70a9f2"/><circle cx="70.33" cy="488.91" r="1.6" fill="#70a9f2"/><circle cx="154.80" cy="459.71" r="1.6" fill="#70a9f2"/><circle cx="37.41" cy="507.26" r="1.0" fill="#111"/><circle cx="39.91" cy="507.26" r="1.0" fill="#111"/><circle cx="47.97" cy="520.24" r="1.0" fill="#111"/><circle cx="50.47" cy="520.24" r="1.0" fill="#111"/><circle cx="58.53" cy="521.86" r="1.0" fill="#111"/><circle cx="61.03" cy="521.86" r="1.0" fill="#111"/><circle cx="67.83" cy="522.67" r="1.0" fill="#111"/><circle cx="70.33" cy="522.67" r="1.0" fill="#111"/><circle cx="72.83" cy="522.67" r="1.0" fill="#111"/><circle cx="154.80" cy="495.09" r="1.0" fill="#111"/></g>
<g><text x="197.50" y="435.80" class="let">k</text><text x="284.60" y="442.90" class="tit">PA42</text><text transform="translate(284.70,551.50) scale(0.92,1)" class="xl">Time (h)</text><text transform="translate(205.25,493.00) rotate(-90) scale(0.86,1)" class="yl">Log10 (CFU/mL)</text><path d="M221.20,453.50V533.30H348.10" class="ax"/><text x="217.00" y="535.10" class="yt">0</text><text x="217.00" y="519.14" class="yt">2</text><text x="217.00" y="503.18" class="yt">4</text><text x="217.00" y="487.22" class="yt">6</text><text x="217.00" y="471.26" class="yt">8</text><text x="217.00" y="455.30" class="yt">10</text><text x="221.20" y="541.90" class="xt">0</text><text x="231.77" y="541.90" class="xt">2</text><text x="242.35" y="541.90" class="xt">4</text><text x="252.93" y="541.90" class="xt">6</text><text x="263.50" y="541.90" class="xt">8</text><text x="348.10" y="541.90" class="xt">24</text><path d="M218.20,533.30H221.20M218.20,517.34H221.20M218.20,501.38H221.20M218.20,485.42H221.20M218.20,469.46H221.20M218.20,453.50H221.20M221.20,533.30V536.10M231.77,533.30V536.10M242.35,533.30V536.10M252.93,533.30V536.10M263.50,533.30V536.10M348.10,533.30V536.10" class="ax"/><path d="M242.35,513.35V509.76M241.15,513.35H243.55M241.15,509.76H243.55M252.93,520.93V516.94M251.73,520.93H254.12M251.73,516.94H254.12M263.50,522.13V517.34M262.30,522.13H264.70M262.30,517.34H264.70M348.10,512.15V505.37M346.90,512.15H349.30M346.90,505.37H349.30" fill="none" stroke="#555" stroke-width="0.8"/><path d="M221.20,473.45 L231.77,501.78 L242.35,511.35 L252.93,518.94 L263.50,519.73 L348.10,508.56" fill="none" stroke="#222" stroke-width="1.05"/><path d="M221.20,471.25L223.30,474.95L219.10,474.95Z" fill="#000"/><path d="M231.77,499.58L233.87,503.28L229.67,503.28Z" fill="#000"/><path d="M242.35,509.15L244.45,512.86L240.25,512.86Z" fill="#000"/><path d="M252.93,516.74L255.03,520.44L250.83,520.44Z" fill="#000"/><path d="M263.50,517.53L265.60,521.23L261.40,521.23Z" fill="#000"/><path d="M348.10,506.36L350.20,510.06L346.00,510.06Z" fill="#000"/><path d="M221.20,471.85 L231.77,495.00 L242.35,494.20 L252.93,496.99 L263.50,495.79 L348.10,463.87" fill="none" stroke="#f7b0b3" stroke-width="1.05"/><rect x="219.70" y="470.35" width="3" height="3" fill="#f4959a"/><rect x="230.27" y="493.50" width="3" height="3" fill="#f4959a"/><rect x="240.85" y="492.70" width="3" height="3" fill="#f4959a"/><rect x="251.43" y="495.49" width="3" height="3" fill="#f4959a"/><rect x="262.00" y="494.29" width="3" height="3" fill="#f4959a"/><rect x="346.60" y="462.37" width="3" height="3" fill="#f4959a"/><path d="M221.20,471.85 L231.77,479.04 L242.35,483.82 L252.93,490.21 L263.50,492.60 L348.10,459.88" fill="none" stroke="#9dc8f8" stroke-width="1.05"/><circle cx="221.20" cy="471.85" r="1.6" fill="#70a9f2"/><circle cx="231.77" cy="479.04" r="1.6" fill="#70a9f2"/><circle cx="242.35" cy="483.82" r="1.6" fill="#70a9f2"/><circle cx="252.93" cy="490.21" r="1.6" fill="#70a9f2"/><circle cx="263.50" cy="492.60" r="1.6" fill="#70a9f2"/><circle cx="348.10" cy="459.88" r="1.6" fill="#70a9f2"/><circle cx="230.52" cy="510.66" r="1.0" fill="#111"/><circle cx="233.02" cy="510.66" r="1.0" fill="#111"/><circle cx="241.10" cy="519.43" r="1.0" fill="#111"/><circle cx="243.60" cy="519.43" r="1.0" fill="#111"/><circle cx="251.68" cy="525.82" r="1.0" fill="#111"/><circle cx="254.18" cy="525.82" r="1.0" fill="#111"/><circle cx="262.25" cy="527.41" r="1.0" fill="#111"/><circle cx="264.75" cy="527.41" r="1.0" fill="#111"/><circle cx="348.10" cy="518.64" r="1.0" fill="#111"/></g>
<g><text x="395.70" y="436.60" class="let">l</text><text x="481.50" y="444.00" class="tit">PA45</text><text transform="translate(481.70,553.10) scale(0.92,1)" class="xl">Time (h)</text><text transform="translate(407.75,494.30) rotate(-90) scale(0.86,1)" class="yl">Log10 (CFU/mL)</text><path d="M423.00,455.20V534.90H540.80" class="ax"/><text x="418.80" y="536.70" class="yt">0</text><text x="418.80" y="520.76" class="yt">2</text><text x="418.80" y="504.82" class="yt">4</text><text x="418.80" y="488.88" class="yt">6</text><text x="418.80" y="472.94" class="yt">8</text><text x="418.80" y="457.00" class="yt">10</text><text x="423.00" y="543.50" class="xt">0</text><text x="432.82" y="543.50" class="xt">2</text><text x="442.63" y="543.50" class="xt">4</text><text x="452.45" y="543.50" class="xt">6</text><text x="462.27" y="543.50" class="xt">8</text><text x="540.80" y="543.50" class="xt">24</text><path d="M420.00,534.90H423.00M420.00,518.96H423.00M420.00,503.02H423.00M420.00,487.08H423.00M420.00,471.14H423.00M420.00,455.20H423.00M423.00,534.90V537.70M432.82,534.90V537.70M442.63,534.90V537.70M452.45,534.90V537.70M462.27,534.90V537.70M540.80,534.90V537.70" class="ax"/><path d="M432.82,516.97V506.21M431.62,516.97H434.02M431.62,506.21H434.02" fill="none" stroke="#555" stroke-width="0.8"/><path d="M432.82,480.31V476.32M431.62,480.31H434.02M431.62,476.32H434.02" fill="none" stroke="#8cbdf6" stroke-width="0.8"/><path d="M423.00,475.92 L432.82,510.19 L442.63,519.76 L452.45,525.34 L462.27,526.93 L540.80,517.37" fill="none" stroke="#222" stroke-width="1.05"/><path d="M423.00,473.72L425.10,477.42L420.90,477.42Z" fill="#000"/><path d="M432.82,507.99L434.92,511.69L430.72,511.69Z" fill="#000"/><path d="M442.63,517.56L444.73,521.26L440.53,521.26Z" fill="#000"/><path d="M452.45,523.14L454.55,526.84L450.35,526.84Z" fill="#000"/><path d="M462.27,524.73L464.37,528.43L460.17,528.43Z" fill="#000"/><path d="M540.80,515.17L542.90,518.87L538.70,518.87Z" fill="#000"/><path d="M423.00,474.33 L432.82,500.63 L442.63,500.63 L452.45,502.22 L462.27,500.63 L540.80,468.75" fill="none" stroke="#f7b0b3" stroke-width="1.05"/><rect x="421.50" y="472.83" width="3" height="3" fill="#f4959a"/><rect x="431.32" y="499.13" width="3" height="3" fill="#f4959a"/><rect x="441.13" y="499.13" width="3" height="3" fill="#f4959a"/><rect x="450.95" y="500.72" width="3" height="3" fill="#f4959a"/><rect x="460.77" y="499.13" width="3" height="3" fill="#f4959a"/><rect x="539.30" y="467.25" width="3" height="3" fill="#f4959a"/><path d="M423.00,474.33 L432.82,478.31 L442.63,483.89 L452.45,488.67 L462.27,491.06 L540.80,464.76" fill="none" stroke="#9dc8f8" stroke-width="1.05"/><circle cx="423.00" cy="474.33" r="1.6" fill="#70a9f2"/><circle cx="432.82" cy="478.31" r="1.6" fill="#70a9f2"/><circle cx="442.63" cy="483.89" r="1.6" fill="#70a9f2"/><circle cx="452.45" cy="488.67" r="1.6" fill="#70a9f2"/><circle cx="462.27" cy="491.06" r="1.6" fill="#70a9f2"/><circle cx="540.80" cy="464.76" r="1.6" fill="#70a9f2"/><circle cx="432.82" cy="521.05" r="1.0" fill="#111"/><circle cx="441.38" cy="524.24" r="1.0" fill="#111"/><circle cx="443.88" cy="524.24" r="1.0" fill="#111"/><circle cx="452.45" cy="530.62" r="1.0" fill="#111"/><circle cx="462.27" cy="531.41" r="1.0" fill="#111"/><circle cx="540.80" cy="525.83" r="1.0" fill="#111"/></g>
<g><path d="M129.6,28.1H138.0" stroke="#9dc8f8" stroke-width="1.1"/><circle cx="133.79999999999998" cy="28.1" r="1.6" fill="#70a9f2"/><text x="142.9" y="30.40" class="leg">Mur</text><path d="M129.6,36.0H138.0" stroke="#f7b0b3" stroke-width="1.1"/><rect x="132.29999999999998" y="34.5" width="3" height="3" fill="#f4959a"/><text x="142.9" y="38.30" class="leg">Cip</text><path d="M129.6,43.900000000000006H138.0" stroke="#111" stroke-width="1.1"/><path d="M133.79999999999998,42.00000000000001L135.49999999999997,45.10000000000001L132.1,45.10000000000001Z" fill="#000"/><text x="142.9" y="46.20" class="leg">Mur+Cip</text></g>
</svg></body></html>
